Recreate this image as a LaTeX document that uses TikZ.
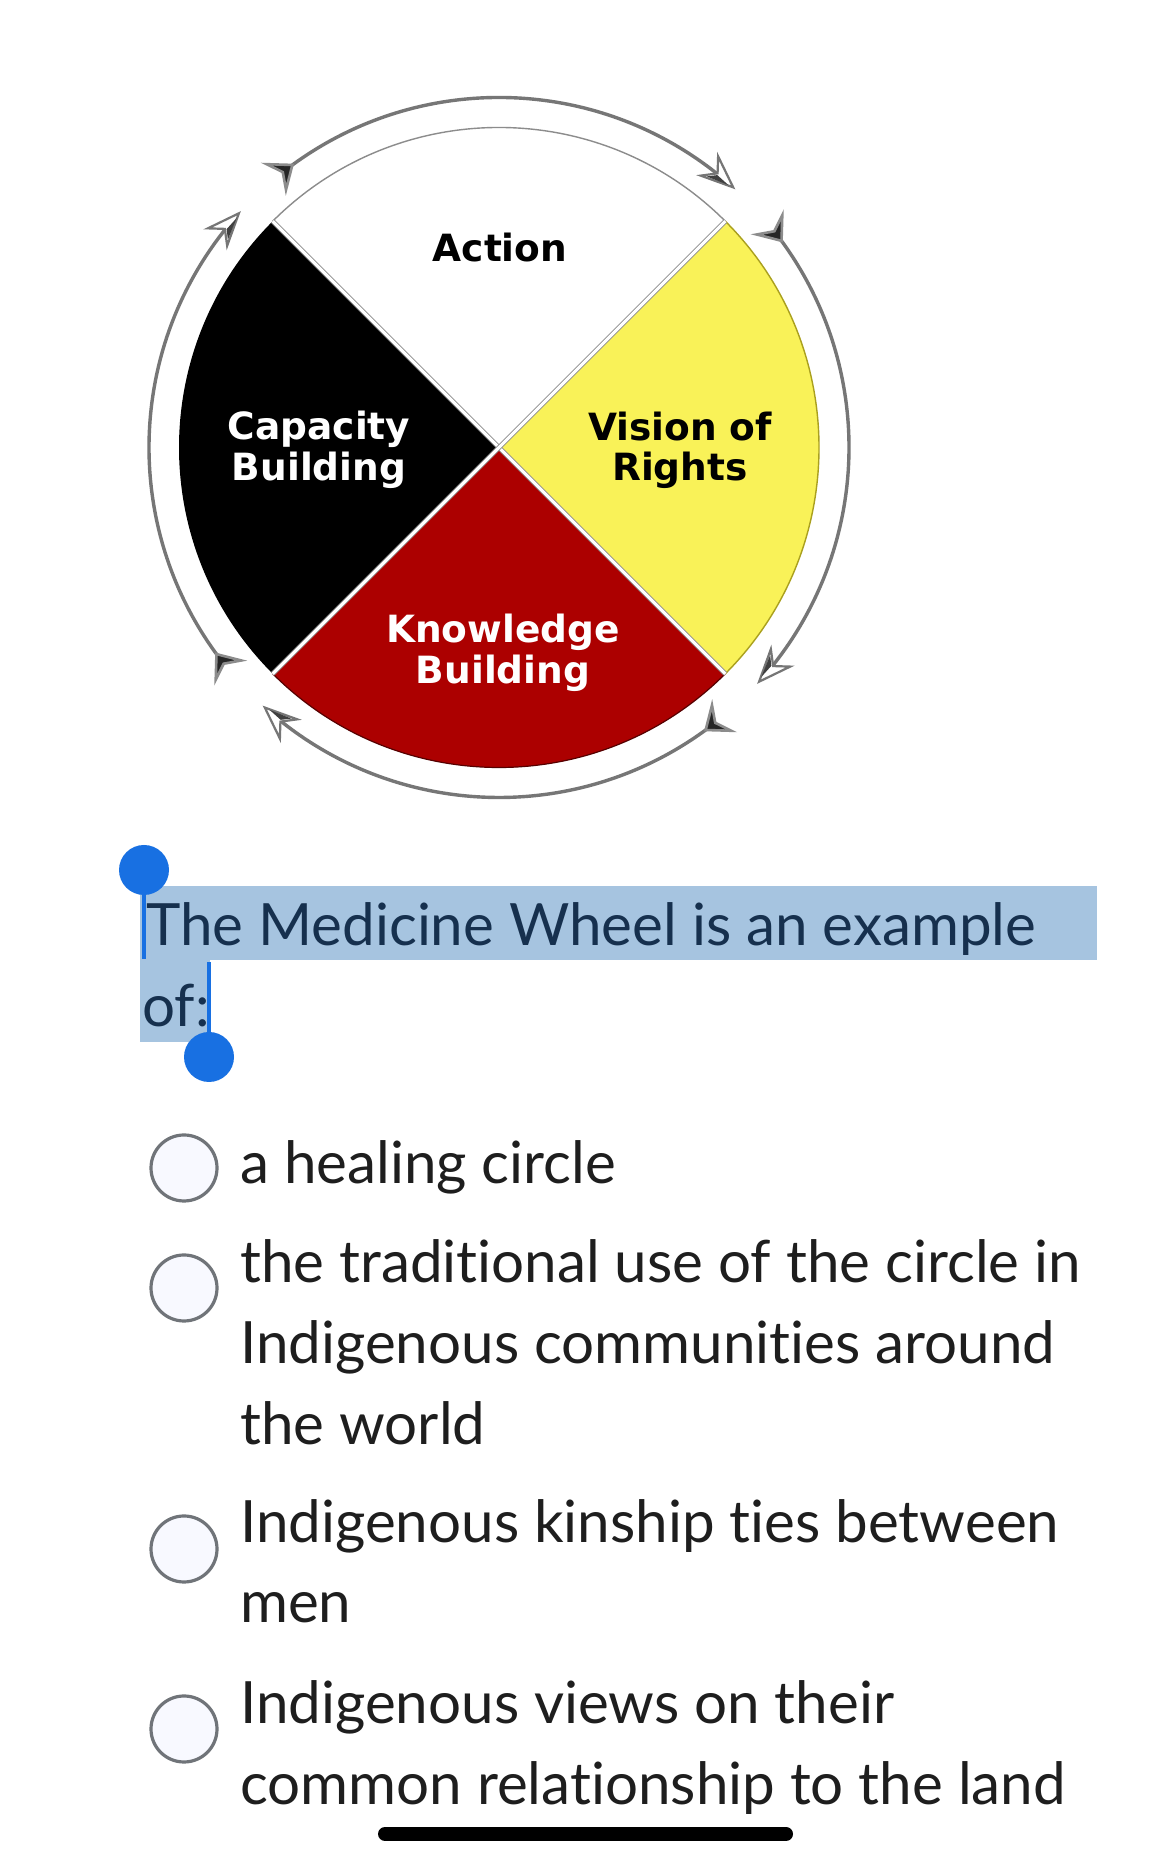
\documentclass[tikz,border=0pt]{standalone}
\usepackage{fontspec}
\setmainfont{Lato}[Ligatures=NoCommon]
\newfontfamily\wheelfont{DejaVu Sans}
\definecolor{wheelred}{RGB}{172,0,0}
\definecolor{wheelyellow}{RGB}{249,242,88}
\definecolor{yedge}{RGB}{170,160,30}
\definecolor{ringgray}{RGB}{118,118,118}
\definecolor{hilite}{RGB}{166,196,224}
\definecolor{handleblue}{RGB}{24,112,226}
\definecolor{qtext}{RGB}{22,48,78}
\definecolor{otext}{RGB}{30,30,30}
\definecolor{radioline}{RGB}{112,116,121}
\definecolor{radiofill}{RGB}{248,249,255}
\tikzset{
  ringarc/.style={draw=ringgray, line width=3.4pt},
  headtip/.pic={
    \draw[ringgray, line width=2.2pt, fill=white, line join=miter] (0,0) -- (-32,13) -- (-21,0) -- (-32,-13) -- cycle;
    \fill[black!75] (-5,-1.5) -- (-27,-9.5) -- (-20,-1.5) -- cycle;
  },
  tailtip/.pic={
    \draw[black!45, line width=2.6pt, fill=black!85, line join=miter] (5,0) -- (-15,16) -- (-7,0) -- (-15,-16) -- cycle;
  },
  divider/.style={draw=black!45, line width=0.9pt, double=white, double distance=3pt},
  wlabel/.style={font=\wheelfont\bfseries\fontsize{37.5}{41}\selectfont, anchor=base, inner sep=0pt},
  qline/.style={font=\fontsize{58.3}{81}\selectfont, text=qtext, anchor=base west, inner sep=0pt},
  oline/.style={font=\fontsize{58.3}{81}\selectfont, text=otext, anchor=base west, inner sep=0pt},
  radio/.style={circle, draw=radioline, fill=radiofill, line width=3.2pt, minimum size=66pt, inner sep=0pt},
}
\begin{document}
\begin{tikzpicture}[x=1pt,y=1pt]
\fill[white] (0,0) rectangle (1170,1867);
\useasboundingbox (0,0) rectangle (1170,1867);
% ---------- wheel ----------
\coordinate (c) at (499,1419.5);
\path (c) ++(135:320pt) coordinate (tl);
\path (c) ++(45:320pt) coordinate (tr);
\path (c) ++(-45:320pt) coordinate (br);
\path (c) ++(-135:320pt) coordinate (bl);
\fill[black] (c) -- (tl) arc[start angle=135, end angle=225, radius=320pt] -- cycle;
\fill[wheelred] (c) -- (bl) arc[start angle=225, end angle=315, radius=320pt] -- cycle;
\fill[wheelyellow] (c) -- (br) arc[start angle=-45, end angle=45, radius=320pt] -- cycle;
\draw[yedge, line width=1.4pt] (br) arc[start angle=-45, end angle=45, radius=320pt];
\draw[black!50!wheelred, line width=1.2pt] (bl) arc[start angle=225, end angle=315, radius=320pt];
\draw[black!45, line width=1.4pt] (tl) arc[start angle=135, end angle=45, radius=320pt];
\draw[divider] (tl) -- (br);
\draw[divider] (tr) -- (bl);
% ring arcs with arrows
\path (c) ++(127:350pt) coordinate (r1s);
\path (c) ++(37:350pt) coordinate (r2s);
\path (c) ++(-53:350pt) coordinate (r3s);
\path (c) ++(-143:350pt) coordinate (r4s);
\draw[ringarc] (r1s) arc[start angle=127, end angle=51, radius=350pt];
\draw[ringarc] (r2s) arc[start angle=37, end angle=-39, radius=350pt];
\draw[ringarc] (r3s) arc[start angle=-53, end angle=-129, radius=350pt];
\draw[ringarc] (r4s) arc[start angle=217, end angle=141, radius=350pt];
\path (c) ++(48:350pt) pic[rotate=-42] (h1) {headtip};
\path (c) ++(-42:350pt) pic[rotate=-132] (h2) {headtip};
\path (c) ++(-132:350pt) pic[rotate=-222] (h3) {headtip};
\path (c) ++(138:350pt) pic[rotate=48] (h4) {headtip};
\path (r1s) pic[rotate=37] (t1) {tailtip};
\path (r2s) pic[rotate=-53] (t2) {tailtip};
\path (r3s) pic[rotate=-143] (t3) {tailtip};
\path (r4s) pic[rotate=127] (t4) {tailtip};
% labels
\node[wlabel] (action) at (500,1605) {Action};
\node[wlabel, text=white] (cap1) at (319,1427) {Capacity};
\node[wlabel, text=white] (cap2) at (319,1386) {Building};
\node[wlabel, text=black] (vis1) at (680,1426) {Vision of};
\node[wlabel, text=black] (vis2) at (680,1386) {Rights};
\node[wlabel, text=white] (kno1) at (503,1224) {Knowledge};
\node[wlabel, text=white] (kno2) at (503,1183) {Building};
% ---------- question with selection ----------
\fill[hilite] (140,907) rectangle (1097,981);
\fill[hilite] (140,825) rectangle (210,907);
\node[qline] (q1) at (146,921) {The Medicine Wheel is an example};
\node[qline] (q2) at (142,840) {of:};
\draw[handleblue, line width=4pt] (144,997) -- (144,908);
\fill[handleblue] (144,997) circle[radius=25pt];
\draw[handleblue, line width=4pt] (209,905) -- (209,810);
\fill[handleblue] (209,810) circle[radius=25pt];
% ---------- options ----------
\node[radio] (rA) at (184,699) {};
\node[radio] (rB) at (184,579) {};
\node[radio] (rC) at (184,318) {};
\node[radio] (rD) at (184,138) {};
\node[oline] (oA) at (240,683) {a healing circle};
\node[oline] (oB1) at (240,584) {the traditional use of the circle in};
\node[oline] (oB2) at (240,503) {Indigenous communities around};
\node[oline] (oB3) at (240,422) {the world};
\node[oline] (oC1) at (240,324) {Indigenous kinship ties between};
\node[oline] (oC2) at (240,244) {men};
\node[oline] (oD1) at (240,143) {Indigenous views on their};
\node[oline] (oD2) at (240,62) {common relationship to the land};
% home indicator
\draw[black, line width=14pt, line cap=round] (385,33) -- (786,33);
\end{tikzpicture}
\end{document}
